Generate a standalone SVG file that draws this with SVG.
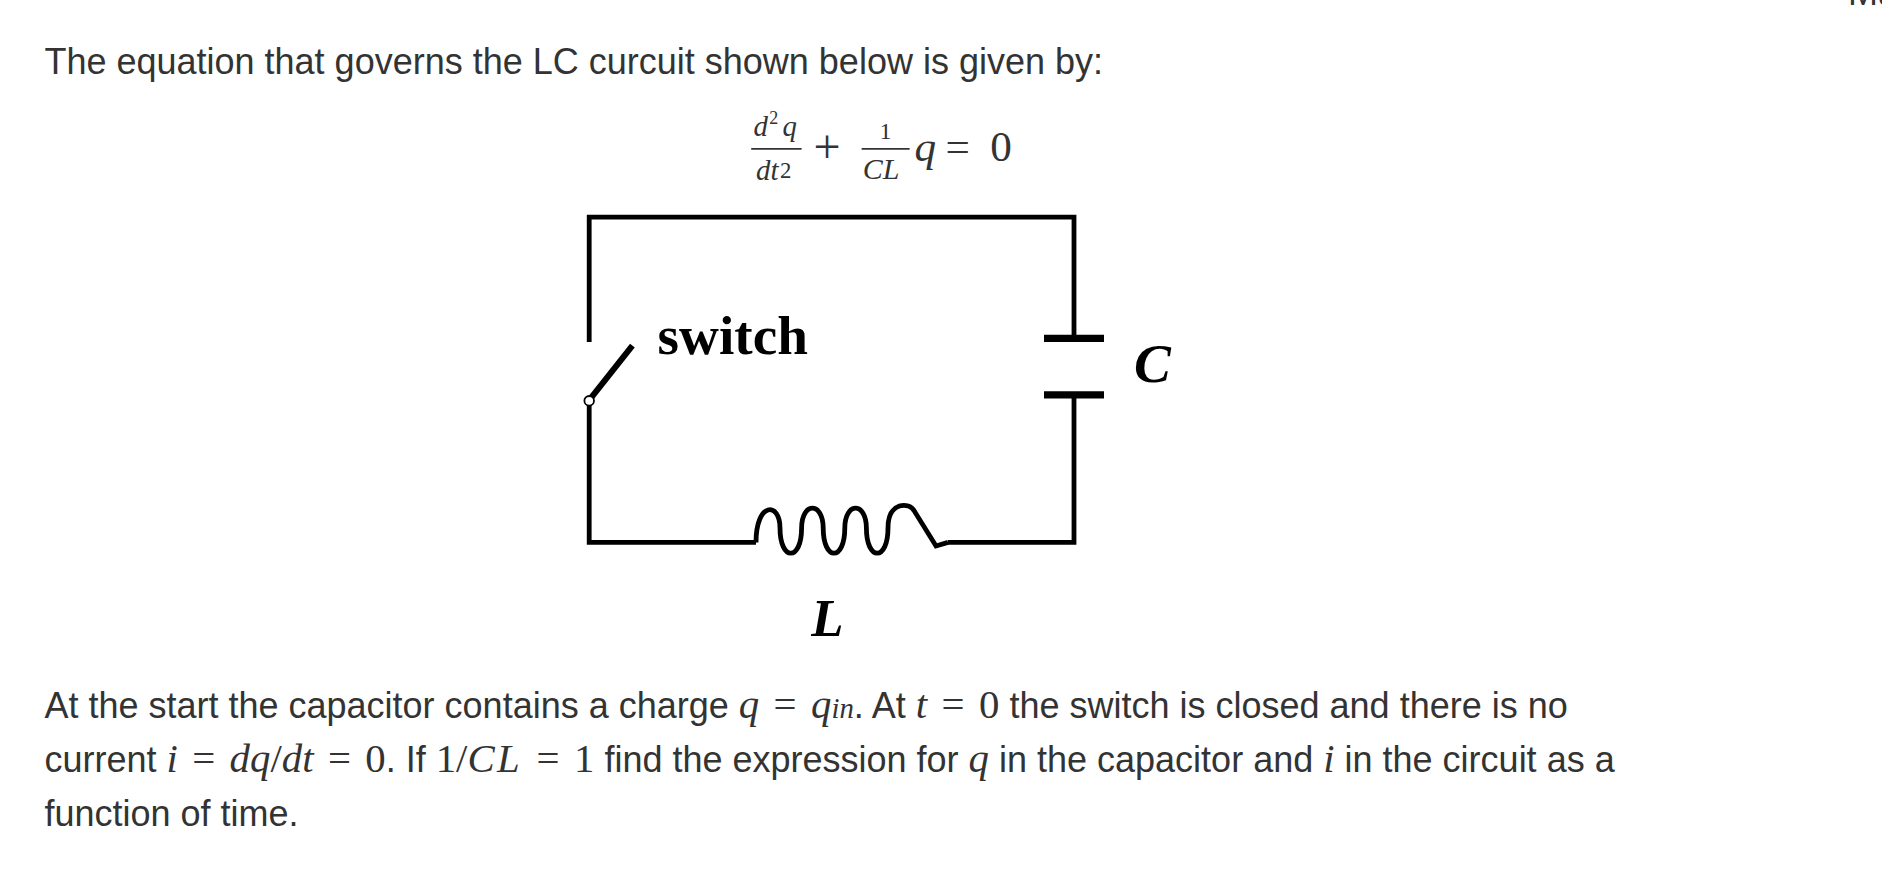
<svg xmlns="http://www.w3.org/2000/svg" width="1882" height="888" viewBox="0 0 1882 888">
<style>
.p{font-family:"Liberation Sans",Arial,sans-serif;font-size:30px;fill:#333}
.m{font-family:"Liberation Serif","Times New Roman",serif;font-style:italic;fill:#333}
.r{font-family:"Liberation Serif","Times New Roman",serif;fill:#333}
.w{stroke:#000;stroke-width:4;fill:none}
.lbl{font-family:"Liberation Serif","Times New Roman",serif;font-weight:bold;fill:#000}
</style>
<rect width="1882" height="888" fill="#fff"/>
<g transform="scale(1.2)">
<text class="p" x="1540" y="4">Ma</text>
<text class="p" x="37" y="62">The equation that governs the LC curcuit shown below is given by:</text>
<g id="equation">
<text class="m" x="628" y="113" font-size="24">d</text><text class="r" x="641" y="103" font-size="15">2</text><text class="m" x="652" y="113" font-size="24">q</text>
<line x1="626" y1="124" x2="668" y2="124" stroke="#333" stroke-width="1.5"/>
<text class="m" x="630" y="150" font-size="24">dt</text><text class="r" x="650" y="148" font-size="19">2</text>
<text class="r" x="678" y="136" font-size="40">+</text>
<text class="r" x="733" y="116" font-size="20">1</text>
<line x1="718" y1="124" x2="758" y2="124" stroke="#333" stroke-width="1.5"/>
<text class="m" x="719" y="149" font-size="25">CL</text>
<text class="m" x="762" y="134" font-size="36">q</text>
<text class="r" x="788" y="134" font-size="36" word-spacing="8">= 0</text>
</g>
<g id="connectors">
<polyline class="w" points="491,285 491,181 895,181 895,282"/>
<polyline class="w" points="491,337 491,452 630,452"/>
<polyline class="w" points="790,452 895,452 895,329"/>
</g>
<g id="switch">
<line x1="493" y1="331" x2="527" y2="288" stroke="#000" stroke-width="5"/>
<circle cx="491" cy="334" r="4" fill="#fff" stroke="#000" stroke-width="1.5"/>
<text class="lbl" x="548" y="295" font-size="46">switch</text>
</g>
<g id="capacitor">
<line x1="870" y1="282" x2="920" y2="282" stroke="#000" stroke-width="6"/>
<line x1="870" y1="329" x2="920" y2="329" stroke="#000" stroke-width="6"/>
<text class="lbl" x="945" y="318" font-size="46" font-style="italic">C</text>
</g>
<g id="inductor">
<path class="w" stroke-width="5" d="M630,452 C630,418 650,418 650,440 C650,468 668,468 668,440 C668,418 686,418 686,440 C686,468 704,468 704,440 C704,418 722,418 722,440 C722,468 740,468 740,440 C740,418 758,418 762,426 L780,455 L790,452"/>
<text class="lbl" x="676" y="530" font-size="44" font-style="italic">L</text>
</g>
<text class="p" x="37" y="598">At the start the capacitor contains a charge <tspan class="m" font-size="34">q</tspan><tspan class="r" font-size="34" dx="12">=</tspan><tspan class="m" font-size="34" dx="12">q</tspan><tspan class="m" font-size="24">in</tspan>. At <tspan class="m" font-size="34">t</tspan><tspan class="r" font-size="34" dx="12">=</tspan><tspan class="r" font-size="34" dx="12">0</tspan> the switch is closed and there is no</text>
<text class="p" x="37" y="643">current <tspan class="m" font-size="34">i</tspan><tspan class="r" font-size="34" dx="12">=</tspan><tspan class="m" font-size="34" dx="12">dq</tspan><tspan class="r" font-size="34">/</tspan><tspan class="m" font-size="34">dt</tspan><tspan class="r" font-size="34" dx="12">=</tspan><tspan class="r" font-size="34" dx="12">0</tspan>. If <tspan class="r" font-size="34">1/</tspan><tspan class="m" font-size="34" letter-spacing="2">CL</tspan><tspan class="r" font-size="34" dx="12">=</tspan><tspan class="r" font-size="34" dx="12">1</tspan> find the expression for <tspan class="m" font-size="34">q</tspan> in the capacitor and <tspan class="m" font-size="34">i</tspan> in the circuit as a</text>
<text class="p" x="37" y="688">function of time.</text>
</g>
</svg>
